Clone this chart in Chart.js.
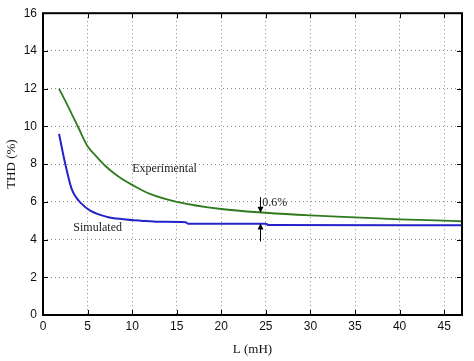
<!DOCTYPE html>
<html>
<head>
<meta charset="utf-8">
<script src="https://cdn.jsdelivr.net/npm/chart.js@4"></script>
<style>
  html, body { margin: 0; padding: 0; background: #fff; }
  #wrap { width: 474px; height: 361px; }
</style>
</head>
<body>
<div id="wrap"><canvas id="thdChart" width="474" height="361"></canvas></div>
<script>
// Inductance L (mH) and THD (%)
const expL   = [1.8, 3, 4, 5, 6, 7, 8, 9, 10, 12, 15, 20, 25, 30, 35, 40, 45, 47];
const expThd = [12.0, 10.88, 9.9, 8.95, 8.4, 7.9, 7.5, 7.17, 6.9, 6.42, 6.0, 5.62, 5.42, 5.28, 5.18, 5.07, 5.0, 4.97];

const simL   = [1.8, 2.5, 3.2, 3.7, 4.2, 5.3, 7.2, 9, 11, 13, 16, 16.3, 25, 25.3, 47];
const simThd = [9.6, 8.0, 6.7, 6.25, 5.96, 5.53, 5.2, 5.08, 5.0, 4.94, 4.92, 4.84, 4.84, 4.77, 4.76];

const xTicks = [0, 5, 10, 15, 20, 25, 30, 35, 40, 45];
const yTicks = [0, 2, 4, 6, 8, 10, 12, 14, 16];

const toPoints = (xs, ys) => xs.map((x, i) => ({ x: x, y: ys[i] }));

// frame + inward ticks, like the matlab axes box
const framePlugin = {
    id: 'frame',
    afterDatasetsDraw(chart) {
        const { ctx, chartArea: a, scales } = chart;
        ctx.save();
        ctx.strokeStyle = '#000';
        ctx.lineWidth = 1;
        xTicks.forEach(v => {
            const px = Math.round(scales.x.getPixelForValue(v)) + 0.5;
            ctx.beginPath();
            ctx.moveTo(px, a.bottom); ctx.lineTo(px, a.bottom - 5);
            ctx.moveTo(px, a.top); ctx.lineTo(px, a.top + 5);
            ctx.stroke();
        });
        yTicks.forEach(v => {
            const py = Math.round(scales.y.getPixelForValue(v)) + 0.5;
            ctx.beginPath();
            ctx.moveTo(a.left, py); ctx.lineTo(a.left + 5, py);
            ctx.moveTo(a.right, py); ctx.lineTo(a.right - 5, py);
            ctx.stroke();
        });
        ctx.lineWidth = 2;
        ctx.strokeRect(a.left, a.top, a.right - a.left, a.bottom - a.top);
        ctx.restore();
    }
};

// curve labels and the 0.6 % gap marker
const notePlugin = {
    id: 'notes',
    afterDatasetsDraw(chart) {
        const { ctx, scales } = chart;
        const X = v => scales.x.getPixelForValue(v);
        const Y = v => scales.y.getPixelForValue(v);
        ctx.save();
        ctx.fillStyle = '#222';
        ctx.font = '12px "Liberation Serif", serif';
        ctx.textBaseline = 'middle';
        ctx.fillText('Experimental', X(10), Y(7.75));
        ctx.fillText('Simulated', X(3.4), Y(4.6));
        ctx.fillText('0.6%', X(24.6), Y(5.95));

        const ax = Math.round(X(24.3)) + 0.5;
        ctx.strokeStyle = '#000';
        ctx.lineWidth = 1;
        ctx.beginPath();
        ctx.moveTo(ax, Y(6.25)); ctx.lineTo(ax, Y(5.45));
        ctx.moveTo(ax, Y(3.9)); ctx.lineTo(ax, Y(4.82));
        ctx.stroke();
        ctx.fillStyle = '#000';
        const head = (yTip, dir) => {
            ctx.beginPath();
            ctx.moveTo(ax, yTip);
            ctx.lineTo(ax - 3, yTip - dir * 6);
            ctx.lineTo(ax + 3, yTip - dir * 6);
            ctx.closePath();
            ctx.fill();
        };
        head(Y(5.42), 1);
        head(Y(4.85), -1);
        ctx.restore();
    }
};

new Chart(document.getElementById('thdChart').getContext('2d'), {
    type: 'line',
    data: {
        datasets: [{
            label: 'Experimental',
            data: toPoints(expL, expThd),
            borderColor: '#2f7a1e',
            borderWidth: 1.8,
            pointRadius: 0,
            fill: false,
            cubicInterpolationMode: 'monotone'
        }, {
            label: 'Simulated',
            data: toPoints(simL, simThd),
            borderColor: '#2323c8',
            borderWidth: 2,
            pointRadius: 0,
            fill: false,
            cubicInterpolationMode: 'monotone'
        }]
    },
    options: {
        responsive: false,
        animation: false,
        layout: { padding: { top: 6, right: 12, left: 0, bottom: 0 } },
        plugins: {
            legend: { display: false },
            tooltip: { enabled: false }
        },
        scales: {
            x: {
                type: 'linear',
                min: 0,
                max: 47,
                afterBuildTicks: s => { s.ticks = xTicks.map(v => ({ value: v })); },
                afterFit: s => { s.height = 46; },
                ticks: {
                    color: '#111',
                    font: { family: '"Liberation Sans", Arial, sans-serif', size: 12 },
                    padding: 4,
                    maxRotation: 0
                },
                grid: { color: '#8a8a8a', lineWidth: 1, tickLength: 0 },
                border: { display: false, dash: [1, 3] },
                title: {
                    display: true,
                    text: 'L (mH)',
                    color: '#111',
                    font: { family: '"Liberation Serif", serif', size: 13 },
                    padding: { top: 2 }
                }
            },
            y: {
                min: 0,
                max: 16,
                afterBuildTicks: s => { s.ticks = yTicks.map(v => ({ value: v })); },
                afterFit: s => { s.width = 43; },
                ticks: {
                    color: '#111',
                    font: { family: '"Liberation Sans", Arial, sans-serif', size: 12 },
                    padding: 6
                },
                grid: { color: '#8a8a8a', lineWidth: 1, tickLength: 0 },
                border: { display: false, dash: [1, 3] },
                title: {
                    display: true,
                    text: 'THD (%)',
                    color: '#111',
                    font: { family: '"Liberation Serif", serif', size: 13 },
                    padding: { bottom: 0 }
                }
            }
        }
    },
    plugins: [framePlugin, notePlugin]
});
</script>
</body>
</html>
